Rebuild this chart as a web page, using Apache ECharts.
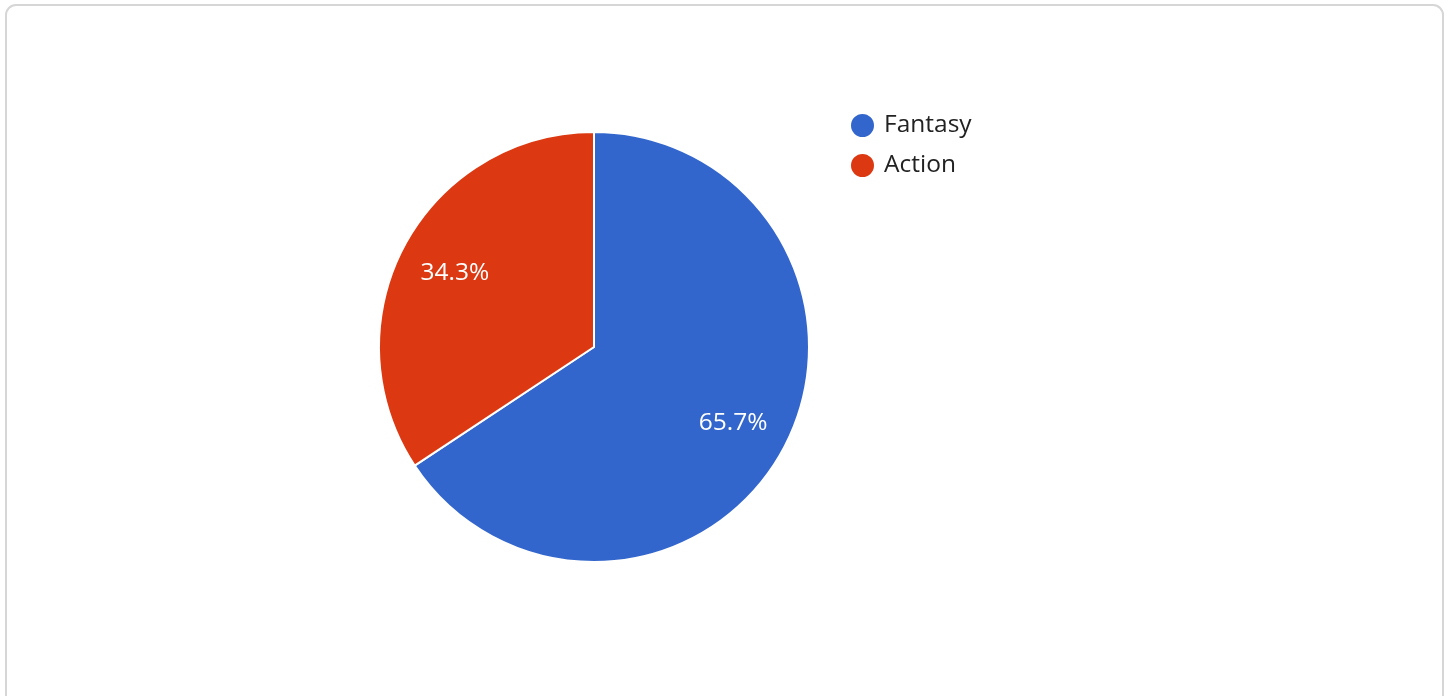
<!DOCTYPE html>
<html><head><meta charset="utf-8">
<script src="https://cdn.jsdelivr.net/npm/echarts@6/dist/echarts.min.js"></script>
<style>
html,body{margin:0;padding:0;background:#fff;overflow:hidden;}
#frame{position:absolute;left:5px;top:4px;width:1439px;height:730px;border:2px solid #d6d6d6;border-radius:11px;box-sizing:border-box;}
#chart{position:absolute;left:0;top:0;width:1453px;height:696px;}
</style></head>
<body>
<div id="frame"></div>
<div id="chart"></div>
<script>
const categories = ['Fantasy', 'Action'];
const values = [65.7, 34.3];
const colors = ['#3366cc', '#dc3912'];

const chart = echarts.init(document.getElementById('chart'));
const data = categories.map((c, i) => ({ name: c, value: values[i], itemStyle: { color: colors[i] } }));
const labelData = categories.map((c, i) => ({ name: c, value: values[i] }));
chart.setOption({
  animation: false,
  legend: {
    orient: 'vertical',
    left: 849,
    top: 112,
    padding: 0,
    icon: 'circle',
    itemWidth: 25,
    itemHeight: 25,
    itemGap: 13,
    textStyle: { fontSize: 24.5, color: '#222', fontFamily: 'Open Sans', padding: [0, 0, 0, 4], lineHeight: 25 },
    data: categories
  },
  series: [
    {
      type: 'pie',
      center: [594, 347],
      radius: [0, 215],
      startAngle: 90,
      clockwise: true,
      label: { show: false },
      labelLine: { show: false },
      itemStyle: { borderColor: '#fff', borderWidth: 2 },
      emphasis: { disabled: true },
      data: data
    },
    {
      type: 'pie',
      center: [594, 348],
      radius: [0, 310],
      startAngle: 90,
      clockwise: true,
      silent: true,
      legendHoverLink: false,
      itemStyle: { color: 'rgba(0,0,0,0)' },
      label: {
        show: true,
        position: 'inside',
        formatter: p => p.value.toFixed(1) + '%',
        color: '#fff',
        fontSize: 24.5,
        fontFamily: 'Open Sans'
      },
      labelLine: { show: false },
      emphasis: { disabled: true },
      data: labelData
    }
  ]
});
</script>
</body></html>
